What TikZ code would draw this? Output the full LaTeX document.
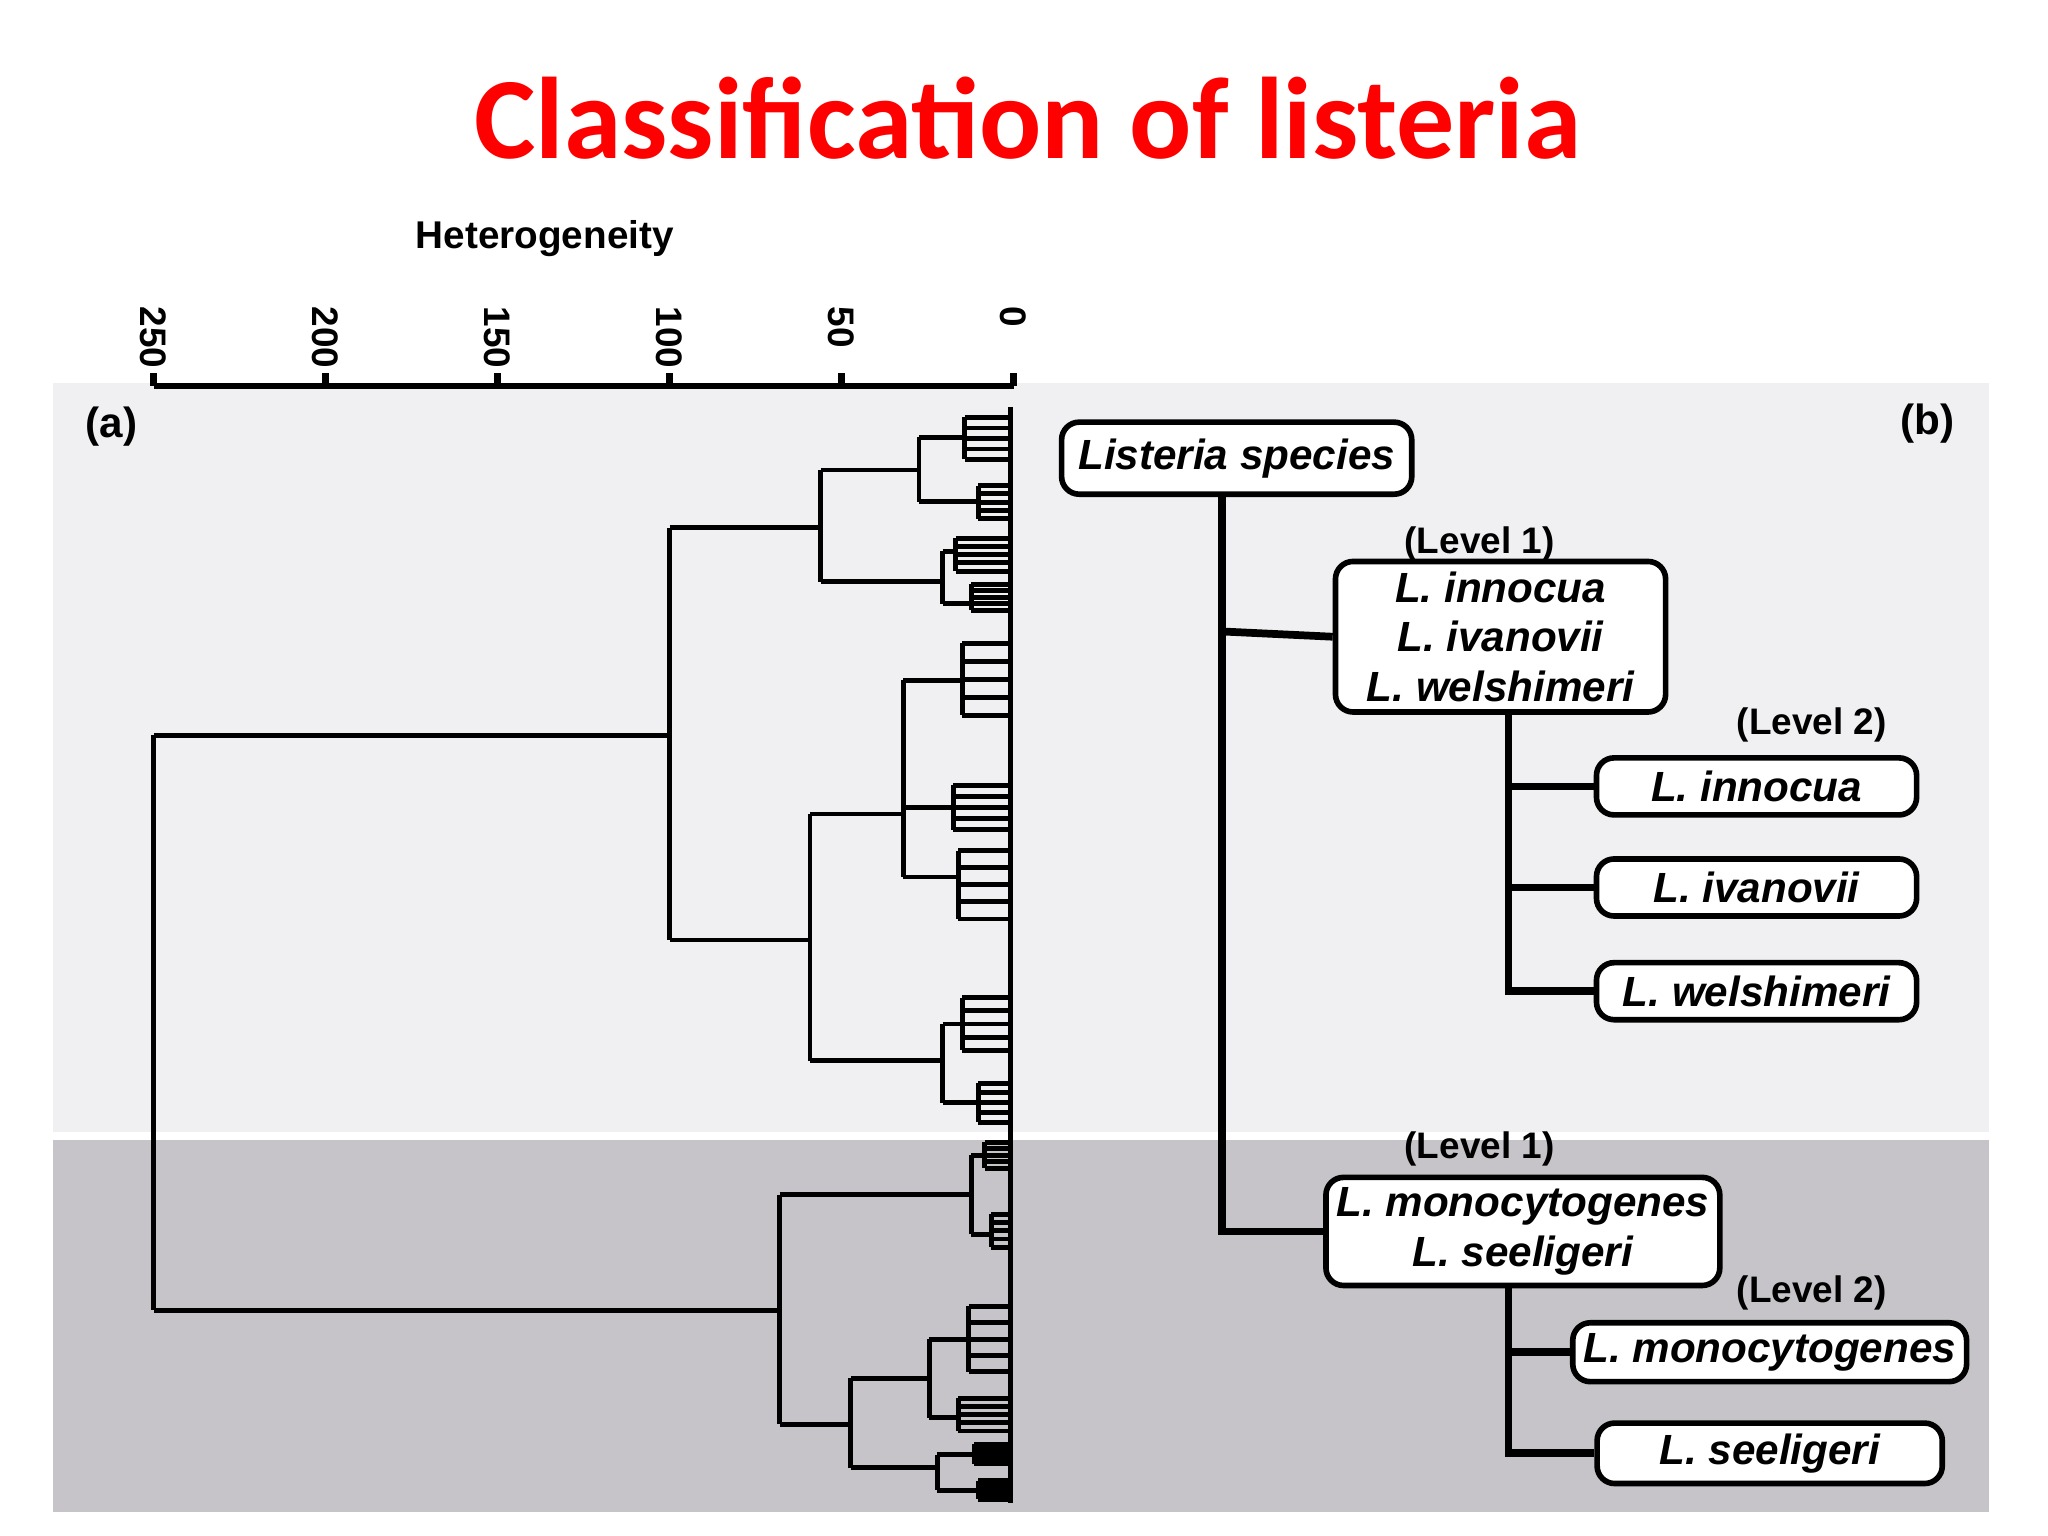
\documentclass[tikz,border=0pt]{standalone}
\usepackage{fontspec}
\setmainfont{Liberation Sans}
\newfontfamily\titlefont{Carlito}
\usetikzlibrary{positioning}
\definecolor{paneltop}{HTML}{F0EFF2}
\definecolor{panelbot}{HTML}{C6C4C8}
\tikzset{spec/.style={draw,line width=1.6pt,rounded corners=5pt,fill=white,
        font=\bfseries\itshape\fontsize{12}{14}\selectfont,inner sep=3pt,align=center},
        lvl/.style={font=\bfseries\fontsize{10.5}{12}\selectfont},
        link/.style={line width=2.2pt},
        dendro/.style={line width=1.4pt}}
\newcommand{\clust}[3]{%
  %% comb of leaves from a small bracket
  \draw[dendro] (#1,#2)--(#1,#3);
  \foreach \k in {0,...,4}
    \draw[dendro] (#1,{#2+\k*(#3-#2)/4})--(770,{#2+\k*(#3-#2)/4});}
\begin{document}
\begin{tikzpicture}[x=0.013128cm,y=-0.013128cm]
  \useasboundingbox (0,0) rectangle (1560,1170);
  \fill[white] (0,0) rectangle (1560,1170);
  \fill[paneltop] (40,292) rectangle (1515,862);
  \fill[panelbot] (40,868) rectangle (1515,1152);
  \node[red,font=\titlefont\bfseries\fontsize{33}{36}\selectfont] (title) at (783,90)
       {Classification of listeria};
  %% axis
  \node[font=\bfseries\fontsize{11}{13}\selectfont] (axislabel) at (415,182) {Heterogeneity};
  \draw[line width=1.8pt] (117,294)--(772,294);
  \foreach \v/\x in {250/117,200/248,150/379,100/510,50/641,0/772}{
    \draw[line width=1.8pt] (\x,294)--(\x,284);
    \node[rotate=-90,anchor=west,font=\bfseries\fontsize{10.5}{12}\selectfont]
         at (\x,224) {\v};}
  \node[font=\bfseries\fontsize{12}{14}\selectfont] (pa) at (85,325) {(a)};
  \node[font=\bfseries\fontsize{12}{14}\selectfont] (pb) at (1468,323) {(b)};
  %% dendrogram
  \draw[dendro] (117,560)--(510,560) (117,998)--(594,998) (117,560)--(117,998);
  \draw[dendro] (510,402)--(510,716) (510,402)--(625,402) (510,716)--(617,716);
  \draw[dendro] (625,358)--(625,443) (625,358)--(700,358) (625,443)--(718,443);
  \draw[dendro] (700,333)--(700,382) (700,333)--(735,333) (700,382)--(745,382);
  \draw[dendro] (718,420)--(718,460) (718,420)--(728,420) (718,460)--(740,460);
  \draw[dendro] (617,620)--(617,808) (617,620)--(688,620) (617,808)--(718,808);
  \draw[dendro] (688,518)--(688,668) (688,518)--(733,518) (688,668)--(730,668)
                (688,615)--(726,615);
  \draw[dendro] (718,780)--(718,840) (718,780)--(733,780) (718,840)--(745,840);
  \draw[dendro] (594,910)--(594,1085) (594,910)--(740,910) (594,1085)--(648,1085);
  \draw[dendro] (740,880)--(740,940) (740,880)--(750,880) (740,940)--(755,940);
  \draw[dendro] (648,1050)--(648,1118) (648,1050)--(708,1050) (648,1118)--(714,1118);
  \draw[dendro] (708,1020)--(708,1080) (708,1020)--(738,1020) (708,1080)--(730,1080);
  \draw[dendro] (714,1108)--(714,1135) (714,1108)--(742,1108) (714,1135)--(745,1135);
  \clust{735}{318}{350}\clust{745}{370}{395}\clust{728}{410}{435}\clust{740}{445}{465}
  \clust{733}{490}{545}\clust{726}{598}{632}\clust{730}{648}{700}
  \clust{733}{760}{800}\clust{745}{825}{855}
  \clust{750}{870}{890}\clust{755}{925}{950}
  \clust{738}{995}{1045}\clust{730}{1065}{1090}\clust{742}{1100}{1115}\clust{745}{1128}{1142}
  \draw[dendro] (770,310)--(770,1145);
  %% classification tree
  \node[spec,minimum width=3.5cm,minimum height=0.72cm] (root) at (942,349) {Listeria species};
  \node[spec,minimum width=3.3cm] (innoc) at (1143,485)
       {L. innocua\\L. ivanovii\\L. welshimeri};
  \node[spec,minimum width=3.75cm] (mono) at (1160,938) {L. monocytogenes\\L. seeligeri};
  \node[spec,minimum width=3.2cm,minimum height=0.57cm] (inn) at (1338,599) {L. innocua};
  \node[spec,minimum width=3.2cm,minimum height=0.57cm] (iva) at (1338,676) {L. ivanovii};
  \node[spec,minimum width=3.2cm,minimum height=0.57cm] (wel) at (1338,755) {L. welshimeri};
  \node[spec,minimum width=3.45cm,minimum height=0.57cm] (mon) at (1348,1030) {L. monocytogenes};
  \node[spec,minimum width=3.45cm,minimum height=0.57cm] (see) at (1348,1107) {L. seeligeri};
  \node[lvl] (l1a) at (1127,414) {(Level 1)};
  \node[lvl] (l1b) at (1127,875) {(Level 1)};
  \node[lvl] (l2a) at (1380,552) {(Level 2)};
  \node[lvl] (l2b) at (1380,985) {(Level 2)};
  \draw[link] (root.south -| 931,0) |- (mono.west);
  \draw[link] (931,481) -- (innoc.west);
  \draw[link] (innoc.south -| 1149,0) |- (wel.west);
  \draw[link] (1149,599) -- (inn.west);
  \draw[link] (1149,676) -- (iva.west);
  \draw[link] (mono.south -| 1149,0) |- (see.west);
  \draw[link] (1149,1030) -- (mon.west);
\end{tikzpicture}
\end{document}
